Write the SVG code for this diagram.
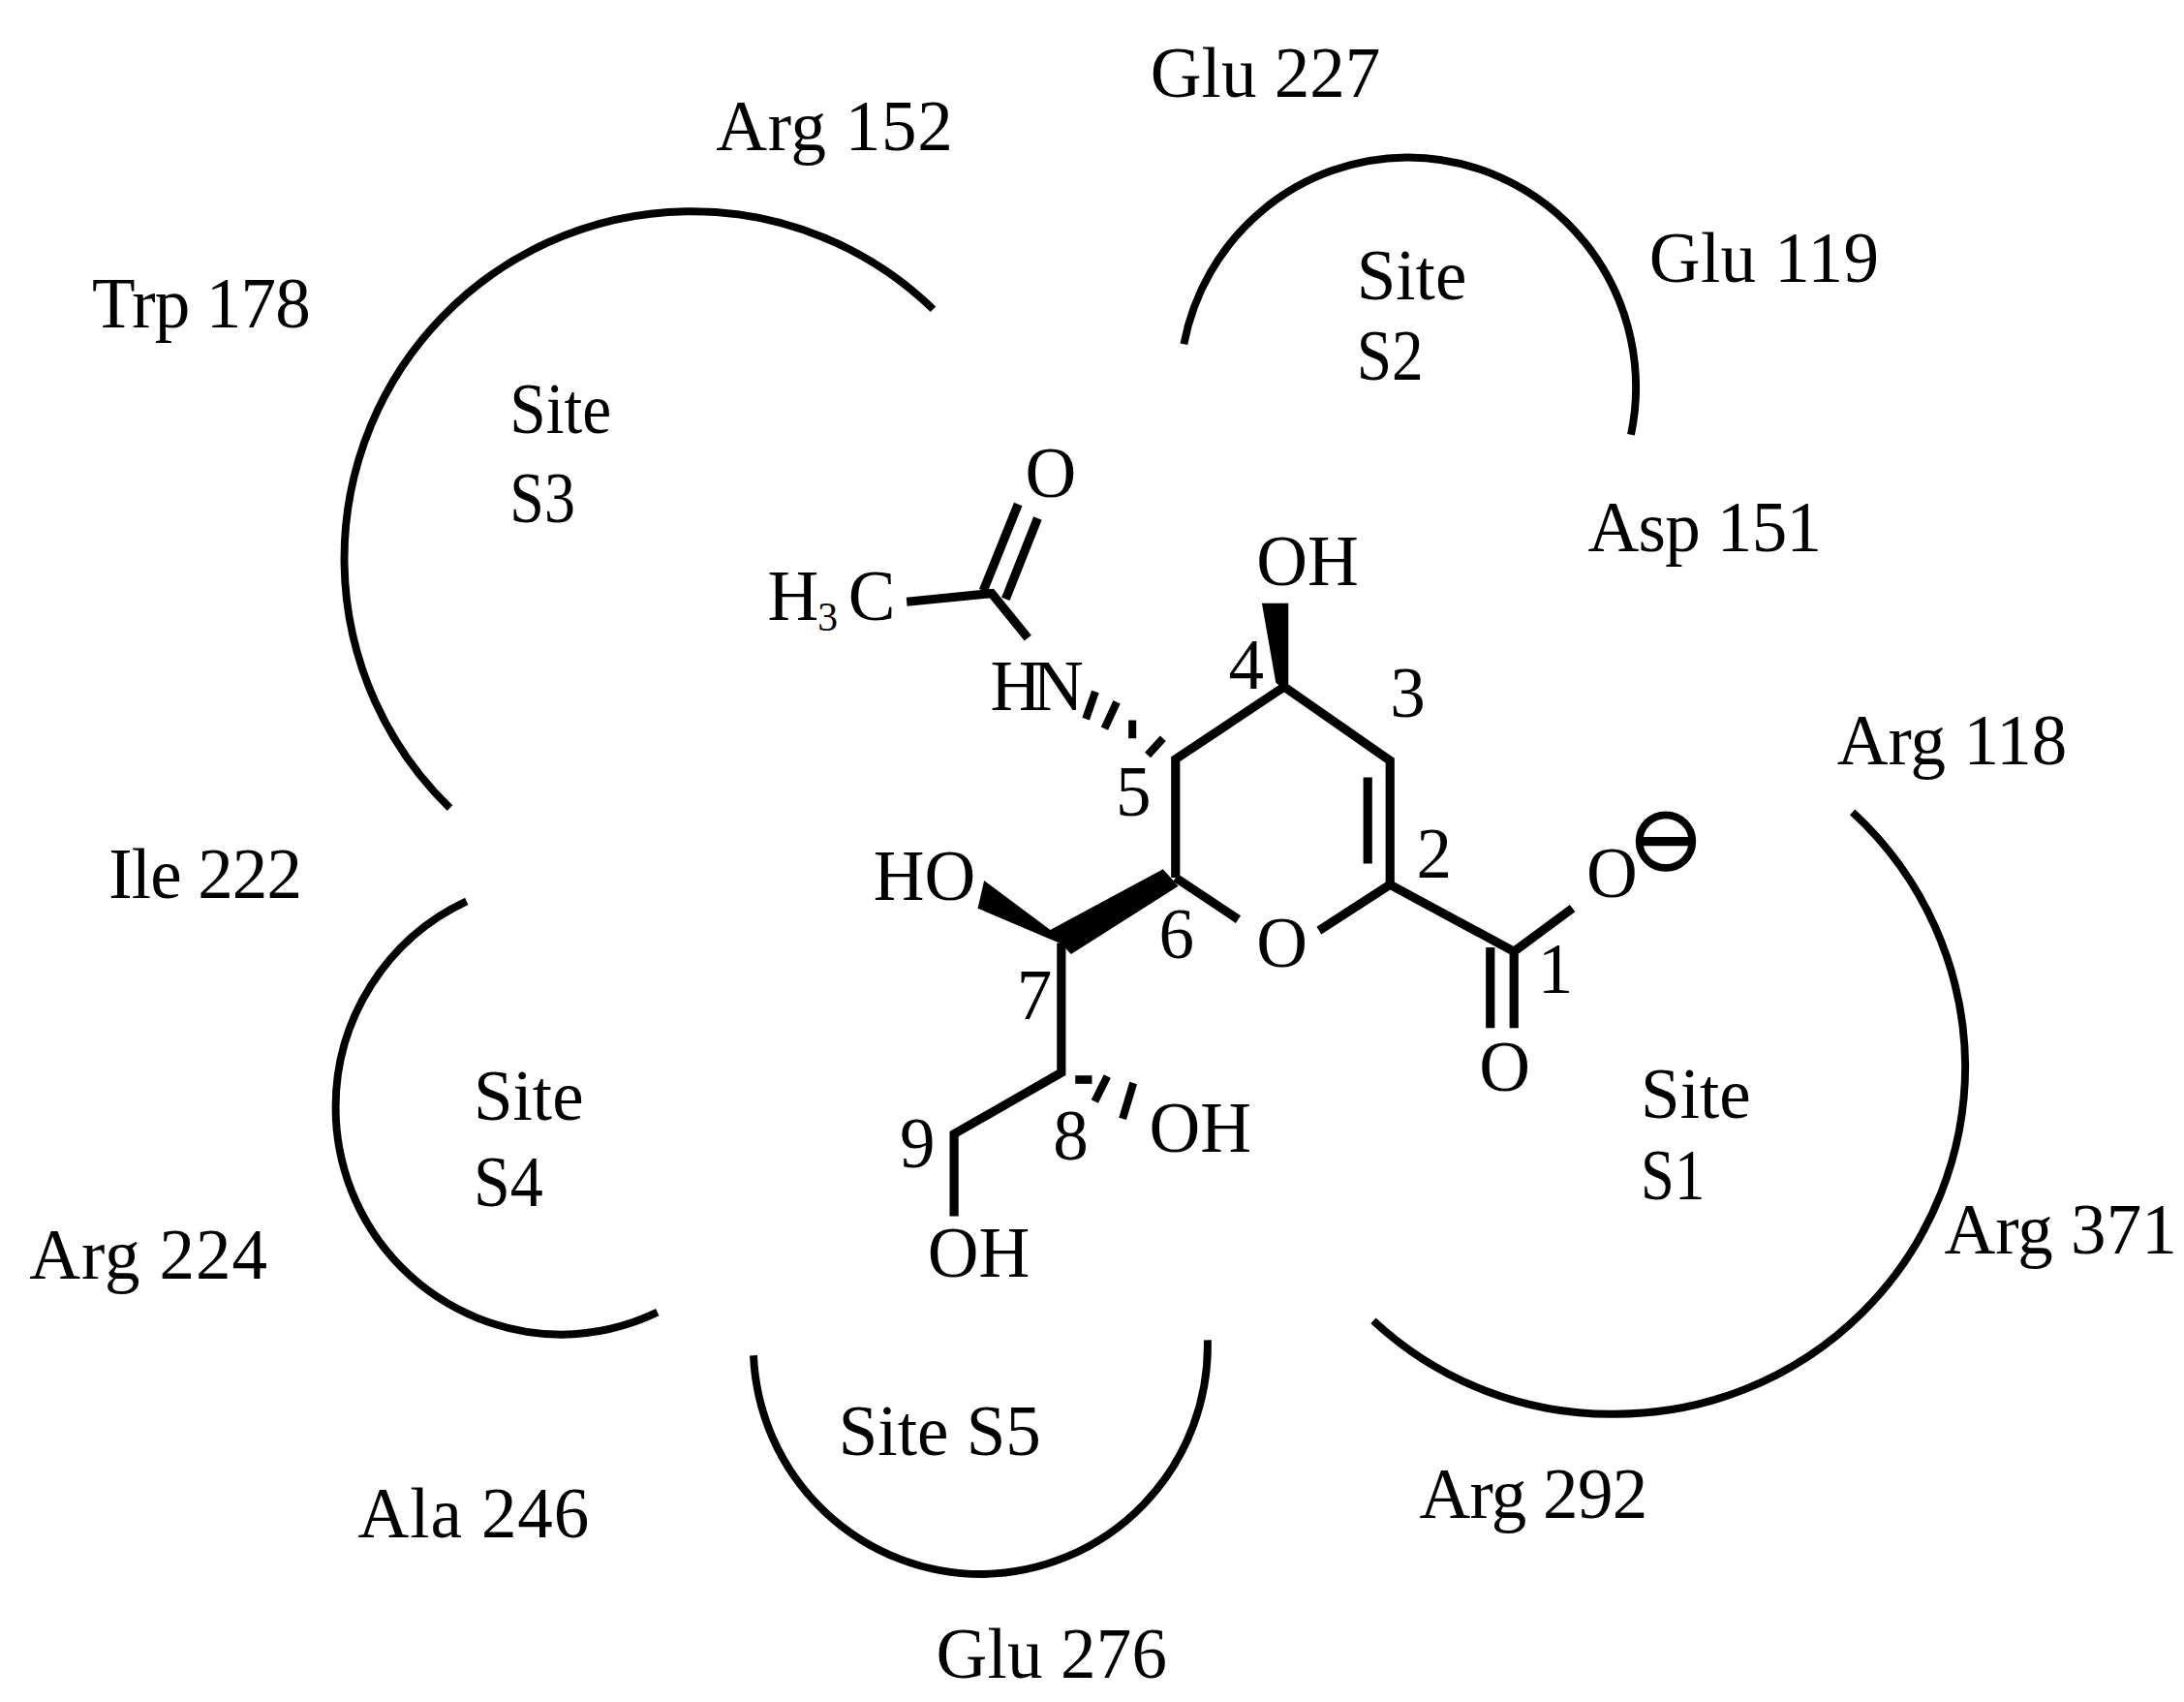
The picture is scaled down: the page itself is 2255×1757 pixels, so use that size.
<svg xmlns="http://www.w3.org/2000/svg" width="2255" height="1757" viewBox="0 0 2255 1757">
<style>
text{font-family:"Liberation Serif","Times New Roman",serif;font-size:50.8px;fill:#000;transform:translateY(.7px)}
.sub{font-size:29px}
.arc{fill:none;stroke:#000;stroke-width:5.5}
.b{fill:none;stroke:#000;stroke-width:6.4}
.h{fill:none;stroke:#000;stroke-width:5.6}
</style>
<rect width="2255" height="1757" fill="#fff"/>
<g transform="scale(1.4381)">
<g id="sites">
<g id="site-s1"><path class="arc" d="M1330 583A250 250 0 0 1 1411 765A251 250 0 0 1 1160 1015A250 250 0 0 1 986 948"/><text x="1178" y="802">Site</text><text x="1178" y="860" textLength="46" lengthAdjust="spacingAndGlyphs">S1</text></g>
<g id="site-s2"><path class="arc" d="M850 247A164 165 0 0 1 1010 113A164 165 0 0 1 1171 312"/><text x="974" y="214">Site</text><text x="974" y="272" textLength="48" lengthAdjust="spacingAndGlyphs">S2</text></g>
<g id="site-s3"><path class="arc" d="M670 222A249 249 0 1 0 323 580"/><text x="366" y="310" textLength="73" lengthAdjust="spacingAndGlyphs">Site</text><text x="366" y="374" textLength="47" lengthAdjust="spacingAndGlyphs">S3</text></g>
<g id="site-s4"><path class="arc" d="M335 647A163 163 0 0 0 241 795A163 163 0 0 0 403 958A163 163 0 0 0 472 942"/><text x="340" y="803">Site</text><text x="340" y="865" textLength="50" lengthAdjust="spacingAndGlyphs">S4</text></g>
<g id="site-s5"><path class="arc" d="M541 973A164 164 0 0 0 705 1130A164 164 0 0 0 867 962"/><text x="602" y="1044">Site S5</text></g>
</g>
<g id="residues">
<text id="glu227" x="826" y="69">Glu 227</text>
<text id="arg152" x="514" y="107" textLength="170">Arg 152</text>
<text id="trp178" x="66" y="234" textLength="157">Trp 178</text>
<text id="glu119" x="1184" y="202" textLength="165">Glu 119</text>
<text id="asp151" x="1140" y="395" textLength="168">Asp 151</text>
<text id="arg118" x="1319" y="548">Arg 118</text>
<text id="arg371" x="1396" y="899">Arg 371</text>
<text id="arg292" x="1019" y="1089" textLength="164">Arg 292</text>
<text id="glu276" x="672" y="1204" textLength="166">Glu 276</text>
<text id="ala246" x="257" y="1103" textLength="166">Ala 246</text>
<text id="arg224" x="21" y="917" textLength="171">Arg 224</text>
<text id="ile222" x="78" y="644" textLength="139">Ile 222</text>
</g>
<g id="bonds">
<path class="b" d="M844 630V545L922 493L998 546V635L947 668M844 630L889 660M982 558V620M998 635L1087 683L1129 652M1070 680V738M1087 680V738"/>
<path class="b" d="M651 432L712 426L738 458M706 424L731 362M722 430L745 372"/>
<path class="b" d="M762 677V770L685 814V873"/>
<path d="M906 433H925L925 491L922 495L916 490Z"/>
<path d="M835 624L846 636L769 685L753 668Z"/>
<path d="M763 678L756 669L706.6 632L702 652Z"/>
<path class="h" d="M786.4 496.5L779.6 516M801.8 504L793 523M813 517V530M835 530L824 542"/>
<path class="h" style="stroke-width:6" d="M772 775H784"/>
<path class="h" d="M795 772.5L786 790.6M813.7 777.4L806 803"/>
</g>
<g id="atoms">
<text x="736" y="356">O</text>
<text x="551" y="444">H</text><text class="sub" x="587" y="452">3</text><text x="609" y="444">C</text>
<text x="711" y="509" textLength="67">HN</text>
<text x="902" y="419">OH</text>
<text x="1139" y="643">O</text>
<g id="minus"><circle cx="1196" cy="604" r="19" fill="none" stroke="#000" stroke-width="5.4"/><path class="b" d="M1177 604H1215"/></g>
<text x="902" y="693">O</text>
<text x="1062" y="782">O</text>
<text x="627" y="645">HO</text>
<text x="825" y="826">OH</text>
<text x="666" y="916">OH</text>
</g>
<g id="numbers">
<text x="1104" y="712">1</text>
<text x="1017" y="629">2</text>
<text x="998" y="514">3</text>
<text x="882" y="494">4</text>
<text x="801" y="585">5</text>
<text x="832" y="687">6</text>
<text x="730" y="731">7</text>
<text x="756" y="832">8</text>
<text x="646" y="837">9</text>
</g>
</g>
</svg>
